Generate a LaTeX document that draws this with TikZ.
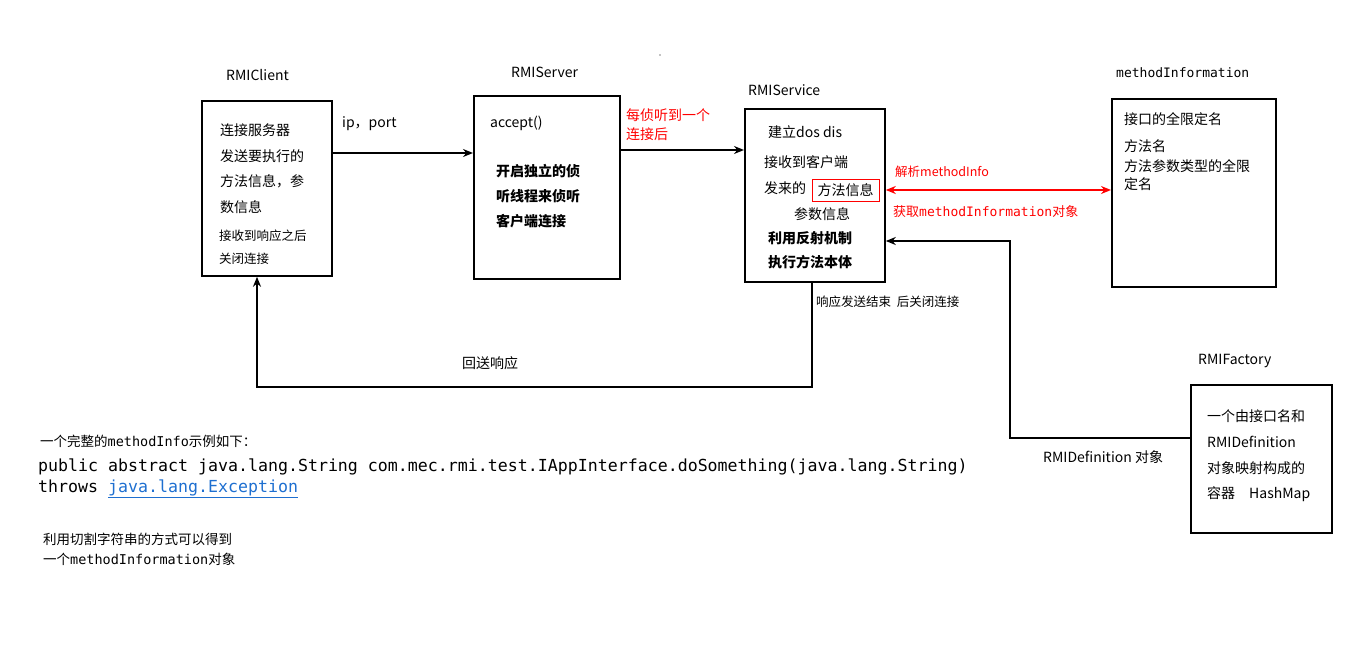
\documentclass[tikz,border=0pt]{standalone}
\usepackage{fontspec}
\setmainfont{Noto Sans CJK SC}
\newfontfamily\codefont{DejaVu Sans Mono}
\newfontfamily\cjk{Noto Sans CJK SC}
\usetikzlibrary{arrows.meta}
\begin{document}
\begin{tikzpicture}[x=1pt,y=-1pt,
  box/.style={draw,line width=1.8pt},
  conn/.style={line width=1.8pt,-{Stealth[length=10pt,width=8pt]}},
  lbl/.style={anchor=west,inner sep=0pt,font=\fontsize{14}{16}\selectfont},
  sm/.style={lbl,font=\fontsize{12.5}{14}\selectfont},
  blbl/.style={lbl,font=\fontsize{14}{16}\selectfont\bfseries},
  rlbl/.style={lbl,text=red}]
\useasboundingbox (0,0) rectangle (1345,650);
\fill (660,55) circle (0.6);
% boxes
\node[box,minimum width=130pt,minimum height=175pt,anchor=north west] (client) at (201,100) {};
\node[box,minimum width=146pt,minimum height=183pt,anchor=north west] (server) at (473,95) {};
\node[box,minimum width=140pt,minimum height=173pt,anchor=north west] (service) at (744,108) {};
\node[box,minimum width=164pt,minimum height=188pt,anchor=north west] (minfo) at (1111,98) {};
\node[box,minimum width=141pt,minimum height=148pt,anchor=north west] (factory) at (1190,384) {};
% titles
\node[lbl] (t1) at (226,75) {RMIClient};
\node[lbl] (t2) at (511,72) {RMIServer};
\node[lbl] (t3) at (748,90) {RMIService};
\node[lbl,font=\codefont\fontsize{13}{15}\selectfont] (t4) at (1116,73) {methodInformation};
\node[lbl] (t5) at (1198,361) {RMIFactory};
% client text
\node[lbl] (c1) at (220,130) {连接服务器};
\node[lbl] (c2) at (220,156) {发送要执行的};
\node[lbl] (c3) at (220,181) {方法信息，参};
\node[lbl] (c4) at (220,207) {数信息};
\node[sm] (c5) at (219,236) {接收到响应之后};
\node[sm] (c6) at (219,259) {关闭连接};
% server text
\node[lbl] (s1) at (490,123) {accept()};
\node[blbl] (s2) at (496,171) {开启独立的侦};
\node[blbl] (s3) at (496,196) {听线程来侦听};
\node[blbl] (s4) at (496,221) {客户端连接};
% service text
\node[lbl] (v1) at (768,132) {建立dos dis};
\node[lbl] (v2) at (764,162) {接收到客户端};
\node[lbl] (v3) at (764,188) {发来的};
\node[lbl,draw=red,line width=0.8pt,anchor=center,minimum width=67pt,minimum height=22pt] (v4) at (845.5,190) {方法信息};
\node[lbl] (v5) at (794,214) {参数信息};
\node[blbl] (v6) at (768,238) {利用反射机制};
\node[blbl] (v7) at (768,262) {执行方法本体};
% minfo text
\node[lbl] (m1) at (1124,119) {接口的全限定名};
\node[lbl] (m2) at (1124,146) {方法名};
\node[lbl] (m3) at (1124,166) {方法参数类型的全限};
\node[lbl] (m4) at (1124,184) {定名};
% factory text
\node[lbl] (f1) at (1207,416) {一个由接口名和};
\node[lbl] (f2) at (1207,442) {RMIDefinition};
\node[lbl] (f3) at (1207,468) {对象映射构成的};
\node[lbl] (f4) at (1207,494) {容器\quad HashMap};
% connectors
\draw[conn] (client.east |- 0,153) -- (server.west |- 0,153);
\node[lbl] (ip) at (342,124) {ip，port};
\draw[conn] (server.east |- 0,150) -- (service.west |- 0,150);
\node[rlbl] (r1) at (626,115) {每侦听到一个};
\node[rlbl] (r1b) at (626,134) {连接后};
\draw[line width=1.8pt,red,{Stealth[length=10pt,width=8pt]}-{Stealth[length=10pt,width=8pt]}] (service.east |- 0,190) -- (minfo.west |- 0,190);
\node[rlbl,font=\fontsize{12.5}{14}\selectfont] (r2) at (895,172) {解析methodInfo};
\node[rlbl,font=\codefont\fontsize{13}{15}\selectfont] (r3) at (893,212) {{\cjk 获取}methodInformation{\cjk 对象}};
\coordinate (a1) at (812,387);
\coordinate (a2) at (257,387);
\draw[conn] (service.south -| 812,0) -- (a1) -- (a2) -- (client.south -| 257,0);
\node[sm] (b1) at (816,302) {响应发送结束\ \ 后关闭连接};
\node[lbl] (b2) at (462,363) {回送响应};
\coordinate (d1) at (1010,438);
\coordinate (d2) at (1010,241);
\draw[conn] (factory.west |- 0,438) -- (d1) -- (d2) -- (service.east |- 0,241);
\node[lbl] (b3) at (1043,457) {RMIDefinition 对象};
% bottom texts
\node[lbl,font=\fontsize{13.5}{15}\selectfont] (e1) at (40,441) {一个完整的{\codefont methodInfo}示例如下：};
\node[lbl,font=\codefont\fontsize{16.6}{18}\selectfont] (e2) at (38,467) {public abstract java.lang.String com.mec.rmi.test.IAppInterface.doSomething(java.lang.String)};
\node[lbl,font=\codefont\fontsize{16.6}{18}\selectfont] (e2b) at (38,489) {throws {\color[HTML]{1E6FD0}\underline{java.lang.Exception}}};
\node[lbl,font=\fontsize{13.5}{15}\selectfont] (e3) at (43,539) {利用切割字符串的方式可以得到};
\node[lbl,font=\fontsize{13.5}{15}\selectfont] (e3b) at (43,559) {一个{\codefont methodInformation}对象};
\end{tikzpicture}
\end{document}
